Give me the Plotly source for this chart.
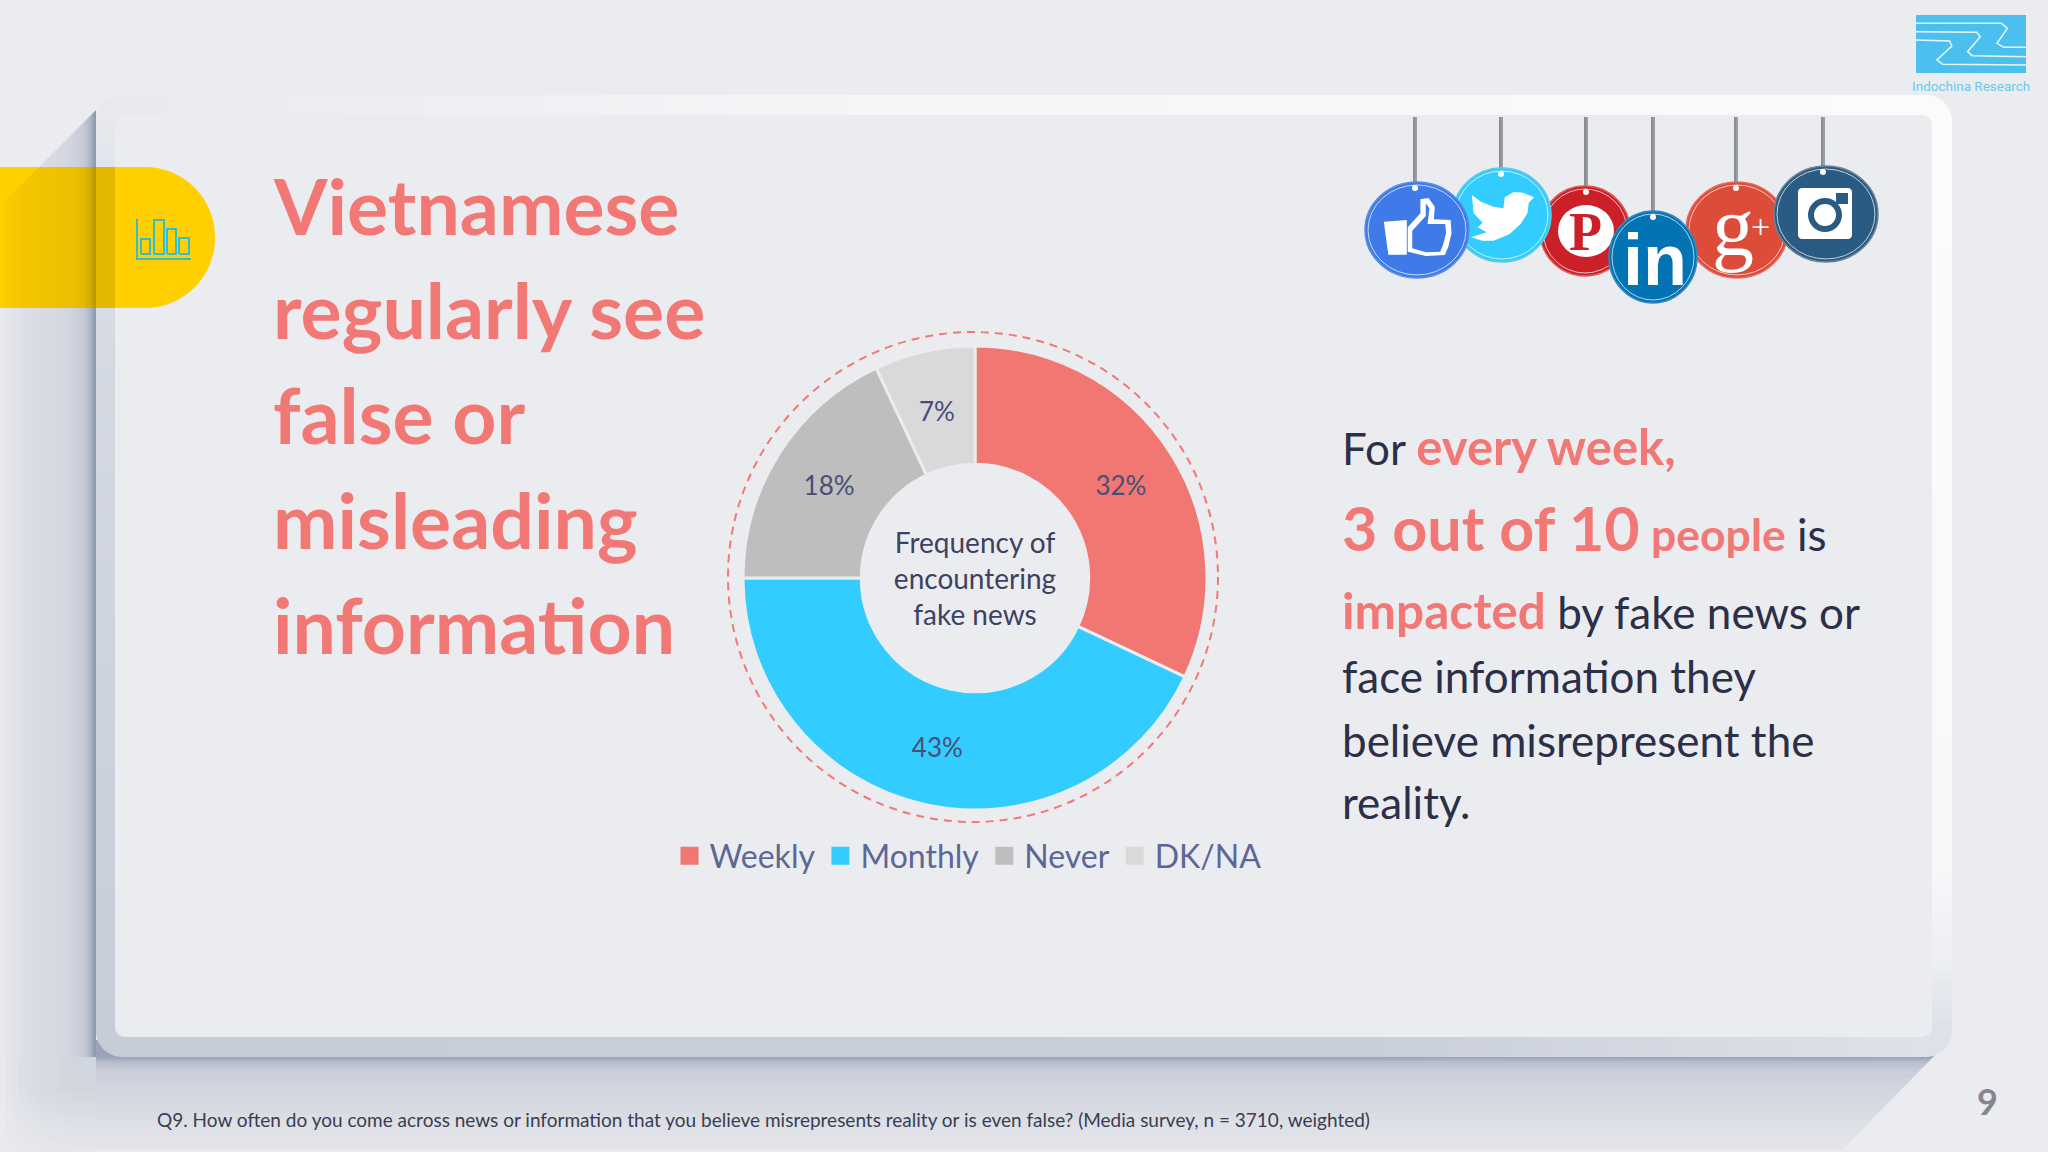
import math
import numpy as np
import plotly.graph_objects as go

# ---------- data ----------
categories = ["Weekly", "Monthly", "Never", "DK/NA"]
shares = [32, 43, 18, 7]
slice_colors = ["#F17772", "#33CCFF", "#BEBEBE", "#D9D9D9"]
center_title = "Frequency of<br>encountering<br>fake news"
headline_lines = ["Vietnamese", "regularly see", "false or", "misleading", "information"]
footnote = ("Q9. How often do you come across news or information that you believe misrepresents "
            "reality or is even false? (Media survey, n = 3710, weighted)")

W, H = 2048, 1152
BG = "#EBECF0"
CORAL = "#F27876"
INK = "#2B3048"
FONT = "Lato"


def X(x):
    return round(x / W, 6)


def Y(y):
    return round(1 - y / H, 6)


shapes = []


def base(**kw):
    d = dict(xref="paper", yref="paper", layer="below", line=dict(width=0))
    d.update(kw)
    return d


def rect(x0, y0, x1, y1, fill):
    shapes.append(base(type="rect", x0=X(x0), x1=X(x1), y0=Y(y1), y1=Y(y0), fillcolor=fill))


def ell(cx, cy, rx, ry, fill="rgba(0,0,0,0)", line=None, width=0, dash=None):
    ln = dict(width=width)
    if line:
        ln["color"] = line
    if dash:
        ln["dash"] = dash
    shapes.append(base(type="circle", x0=X(cx - rx), x1=X(cx + rx), y0=Y(cy + ry), y1=Y(cy - ry),
                       fillcolor=fill, line=ln))


def poly(pts, fill):
    p = "M" + " L".join(f"{X(a)},{Y(b)}" for a, b in pts) + " Z"
    shapes.append(base(type="path", path=p, fillcolor=fill))


def stroke(pts, color, width):
    p = "M" + " L".join(f"{X(a)},{Y(b)}" for a, b in pts)
    shapes.append(base(type="path", path=p, line=dict(color=color, width=width)))


def rrect_path(x0, y0, x1, y1, r):
    k = r * 0.448

    def C(a, b, c, d, e, f):
        return f"C{X(a)},{Y(b)} {X(c)},{Y(d)} {X(e)},{Y(f)} "

    return (f"M{X(x0 + r)},{Y(y0)} L{X(x1 - r)},{Y(y0)} " + C(x1 - k, y0, x1, y0 + k, x1, y0 + r) +
            f"L{X(x1)},{Y(y1 - r)} " + C(x1, y1 - k, x1 - k, y1, x1 - r, y1) +
            f"L{X(x0 + r)},{Y(y1)} " + C(x0 + k, y1, x0, y1 - k, x0, y1 - r) +
            f"L{X(x0)},{Y(y0 + r)} " + C(x0, y0 + k, x0 + k, y0, x0 + r, y0) + "Z")


def rrect(x0, y0, x1, y1, r, fill):
    shapes.append(base(type="path", path=rrect_path(x0, y0, x1, y1, r), fillcolor=fill))


def mix(stops, t):
    ts = [s[0] for s in stops]
    cs = [[int(s[1][i:i + 2], 16) for i in (1, 3, 5)] for s in stops]
    c = [int(round(np.interp(t, ts, [k[j] for k in cs]))) for j in range(3)]
    return f"rgb({c[0]},{c[1]},{c[2]})"


SH = "55,75,115"
LX = [0, 6, 20, 40, 60, 72, 84, 90, 96]
LA = [0.0, 0.03, 0.07, 0.105, 0.12, 0.14, 0.21, 0.33, 0.54]
BYY = [1040, 1057, 1062, 1072, 1090, 1120, 1152]
BYA = [0.45, 0.45, 0.30, 0.18, 0.14, 0.08, 0.03]


def la(x):
    return float(np.interp(x, LX, LA))


def ba(y):
    return float(np.interp(y, BYY, BYA))


# left fold shadow
xs = list(range(0, 80, 4)) + list(range(80, 97, 2))
for a, b in zip(xs[:-1], xs[1:]):
    poly([(a, 206 - a), (b, 206 - b), (b, 1057), (a, 1057)],
         f"rgba({SH},{la((a + b) / 2):.3f})")
# bottom-left corner: the two shadows melt into one
for cx in range(0, 96, 6):
    for cy in range(1057, 1152, 6):
        al = min(la(cx + 3), 0.14) / 0.14 * min(ba(cy + 3), 0.14)
        rect(cx, cy, cx + 6, min(cy + 6, 1152), f"rgba({SH},{al:.3f})")
# bottom shadow
ys = [1040, 1057, 1059, 1061, 1063, 1065, 1068, 1072, 1078] + list(range(1084, 1153, 6))
for a, b in zip(ys[:-1], ys[1:]):
    ea = 1941 - (a - 1049) * 0.98
    eb = 1941 - (b - 1049) * 0.98
    poly([(96, a), (ea, a), (eb, b), (96, b)], f"rgba({SH},{ba((a + b) / 2):.3f})")

# card frame with diagonal light
L, T, R, B = 96, 95, 1952, 1057
rad = 26
TOP = [(0, "#E8EAEF"), (0.35, "#F3F4F6"), (1, "#FBFBFC")]
LEFT = [(0, "#E6E8EE"), (0.25, "#D4D9E2"), (1, "#C6CDD8")]
BOT = [(0, "#C6CDD8"), (0.7, "#C9CFDA"), (1, "#DDE1E9")]
RIGHT = [(0, "#FBFBFC"), (0.82, "#F8F8FA"), (0.93, "#ECEEF2"), (1, "#DDE1E9")]
N = 90
for i in range(N):
    a = L + rad + (R - L - 2 * rad) * i // N
    b = L + rad + (R - L - 2 * rad) * (i + 1) // N
    rect(a, T, b, T + 30, mix(TOP, i / (N - 1)))
    rect(a, B - 30, b, B, mix(BOT, i / (N - 1)))
    a = T + rad + (B - T - 2 * rad) * i // N
    b = T + rad + (B - T - 2 * rad) * (i + 1) // N
    rect(L, a, L + 30, b, mix(LEFT, i / (N - 1)))
    rect(R - 30, a, R, b, mix(RIGHT, i / (N - 1)))
for (cx, cy, sx, sy, col) in [(L + rad, T + rad, -1, -1, "#E7E9EE"), (R - rad, T + rad, 1, -1, "#FBFBFC"),
                              (L + rad, B - rad, -1, 1, "#C6CDD8"), (R - rad, B - rad, 1, 1, "#DDE1E9")]:
    k = 0.552 * rad
    p = (f"M{X(cx)},{Y(cy)} L{X(cx + sx * rad)},{Y(cy)} "
         f"C{X(cx + sx * rad)},{Y(cy + sy * k)} {X(cx + sx * k)},{Y(cy + sy * rad)} {X(cx)},{Y(cy + sy * rad)} Z")
    shapes.append(base(type="path", path=p, fillcolor=col))
rrect(115, 115, 1932, 1037, 10, BG)

# yellow tab with the fold showing through
rrect(-90, 167, 215, 308, 70, "#FFCF00")
xs = list(range(0, 80, 5)) + list(range(80, 97, 2))
for a, b in zip(xs[:-1], xs[1:]):
    al = la((a + b) / 2) * 0.62
    ta, tb = max(167, 206 - a), max(167, 206 - b)
    poly([(a, ta), (b, tb), (b, 308), (a, 308)], f"rgba(40,30,0,{al:.3f})")
rect(96, 167, 115, 308, "rgba(40,30,0,0.13)")

# small bar glyph on the tab
GL = "#2FBFD0"
stroke([(137, 219), (137, 259), (191, 259)], GL, 2)
for x0, x1, y0 in [(141, 150, 239), (154, 164, 220), (167, 176, 229), (179, 189, 238)]:
    stroke([(x0, 254), (x0, y0), (x1, y0), (x1, 254), (x0, 254)], GL, 2)

# dashed ring around the doughnut
CX, CY, RO, RH = 975, 578, 232, 115
ell(CX - 2, CY - 1, 245, 245, line=CORAL, width=2, dash="8px,6px")


# ---------- hanging social tags ----------
def Z(a, b):
    return (1340 + a / 2.2147, b / 3)


def tag(cx, cy, rx, ry, fill, ring, sx, sy):
    stroke([(sx - 1, 117), (sx - 1, sy + 6)], "#2E3138", 1)
    stroke([(sx + 1, 117), (sx + 1, sy + 6)], "#4A4E58", 1)
    ell(cx, cy, rx, ry, fill=fill, line=ring, width=1.5)
    ell(cx, cy, rx - 3, ry - 3, line="rgba(255,255,255,0.7)", width=1)
    ell(sx, sy + 6, 3, 3, fill="#FFFFFF")


# Pinterest
tag(1585, 231, 45, 45, "#CB2027", "#DD5A55", 1586, 186)
ell(1586, 231, 28, 26, fill="#FFFFFF")
# Twitter
tag(1502, 215, 49, 47, "#33CCFF", "#5CCBE8", 1501, 168)
poly([Z(*p) for p in [(292, 585), (312, 605), (340, 620), (362, 625), (365, 592), (385, 576), (405, 578),
                      (430, 592), (418, 608), (415, 640), (400, 672), (375, 703), (340, 722), (315, 722),
                      (290, 712), (325, 697), (305, 682), (316, 668), (296, 640)]], "#FFFFFF")
# Facebook
tag(1417, 230, 52, 48, "#3F7BE8", "#5A8CE6", 1415, 182)
poly([Z(*p) for p in [(97, 665), (148, 660), (148, 764), (107, 764)]], "#FFFFFF")
poly([Z(*p) for p in [(150, 682), (178, 640), (178, 598), (196, 594), (210, 620), (208, 658), (245, 660),
                      (247, 700), (240, 740), (232, 765), (190, 768), (150, 755)]], "#FFFFFF")
poly([Z(*p) for p in [(160, 692), (190, 648), (190, 610), (198, 625), (194, 672), (233, 672),
                      (235, 700), (228, 735), (222, 755), (190, 757), (160, 745)]], "#3F7BE8")
# Google+
tag(1737, 230, 51, 48, "#DD4B39", "#E56B5C", 1736, 182)
# LinkedIn
tag(1653, 257, 44, 46, "#0274B3", "#3A86C4", 1653, 211)
# Instagram
tag(1826, 214, 52, 48, "#2A5B83", "#6E8496", 1823, 166)
rrect(1798, 188, 1852, 239, 4, "#FFFFFF")
ell(1825, 215, 17, 17, fill="#2A5B83")
ell(1825, 215, 11, 11, fill="#FFFFFF")
rect(1836, 193, 1848, 204, "#2A5B83")

# ---------- company logo ----------
rect(1916, 15, 2026, 73, "#4BC0EF")
for pts in [[(1275, 70), (1465, 70), (1478, 85), (1455, 130), (1470, 142), (1520, 142)],
            [(1275, 95), (1410, 97), (1418, 110), (1390, 155), (1400, 167), (1520, 170)],
            [(1275, 120), (1350, 123), (1355, 138), (1322, 180), (1335, 193), (1520, 195)]]:
    stroke([Z(*p) for p in pts], "#E6F7FE", 1.5)

# ---------- text ----------
ann = []


def text(x, y, s, size, color=INK, bold=False, anchor="left", family=FONT, weight=None):
    f = dict(family=family, size=size, color=color)
    if weight:
        f["weight"] = weight
    ann.append(dict(xref="paper", yref="paper", x=X(x), y=Y(y), text=f"<b>{s}</b>" if bold else s,
                    showarrow=False, xanchor=anchor, yanchor="middle", align="left", font=f,
                    borderpad=0, borderwidth=0))


for line, yc in zip(headline_lines, [205, 309, 414, 519, 624]):
    text(273, yc, line, 77, CORAL, bold=True)


def c(s, size=None):
    st = f"color:{CORAL}" + (f";font-size:{size}px" if size else "")
    return f'<span style="{st}"><b>{s}</b></span>'


text(1342, 446, "For " + c("every week,", 49), 44)
text(1342, 528, c("3 out of 10", 61) + " " + c("people", 44.5) + " is", 44)
text(1342, 610, c("impacted", 49.5) + " by fake news or", 44)
text(1342, 676, "face information they", 44)
text(1342, 740, "believe misrepresent the", 44)
text(1342, 802, "reality.", 44)
text(157, 1120, footnote, 19, "#3A3D50")
text(1988, 1101, "9", 36, "#85868F", bold=True, anchor="center")
text(1971, 86, "Indochina Research", 13.5, "#66CBF2", anchor="center", family="Roboto")

# logos drawn as letters
text(1586, 232, "P", 54, "#CB2027", bold=True, anchor="center", family="Liberation Serif")
text(1655, 260, "in", 72, "#FFFFFF", bold=True, anchor="center", family="Liberation Sans")
text(1733, 226, "g", 84, "#FFFFFF", anchor="center", family="Liberation Serif")
text(1760, 226, "+", 34, "#FFFFFF", anchor="center", family="Liberation Serif")

# the thinnest slice keeps its label at the middle of the ring
PCT_FONT = dict(family=FONT, size=26, color="#474E78")
mid = (sum(shares[:3]) + shares[3] / 2) / sum(shares) * 2 * math.pi
ann.append(dict(xref="paper", yref="paper", showarrow=False,
                x=X(CX + (RO + RH) / 2 * math.sin(mid)), y=Y(CY - (RO + RH) / 2 * math.cos(mid) + 2),
                text=f"{shares[3]}%", font=PCT_FONT))

# ---------- chart ----------
fig = go.Figure(go.Pie(
    labels=categories,
    values=shares,
    sort=False,
    direction="clockwise",
    rotation=0,
    hole=0.49,
    marker=dict(colors=slice_colors, line=dict(color=BG, width=3)),
    texttemplate=["%{percent:.0%}"] * 3 + [" "],
    textposition="inside",
    insidetextorientation="horizontal",
    textfont=PCT_FONT,
    title=dict(text=center_title, position="middle center",
               font=dict(family=FONT, size=28, color="#3C4260")),
    domain=dict(x=[(CX - RO) / W, (CX + RO) / W], y=[1 - (CY + RO) / H, 1 - (CY - RO) / H]),
    showlegend=False,
))
for name, col in zip(categories, slice_colors):
    fig.add_trace(go.Scatter(x=[None], y=[None], mode="markers", name=name,
                             marker=dict(symbol="square", size=16, color=col, line=dict(color=col, width=2))))
fig.update_layout(
    width=W, height=H,
    margin=dict(l=0, r=0, t=0, b=0),
    paper_bgcolor=BG,
    plot_bgcolor="rgba(0,0,0,0)",
    xaxis=dict(visible=False),
    yaxis=dict(visible=False),
    shapes=shapes,
    annotations=ann,
    showlegend=True,
    legend=dict(orientation="h", x=968 / W, xanchor="center", y=1 - 856 / H, yanchor="middle",
                font=dict(family=FONT, size=32, color="#5B6796"), bgcolor="rgba(0,0,0,0)"),
)
fig.write_html("out.html", config={"displayModeBar": False},
               post_script="document.body.style.margin='0';document.body.style.overflow='hidden';")
